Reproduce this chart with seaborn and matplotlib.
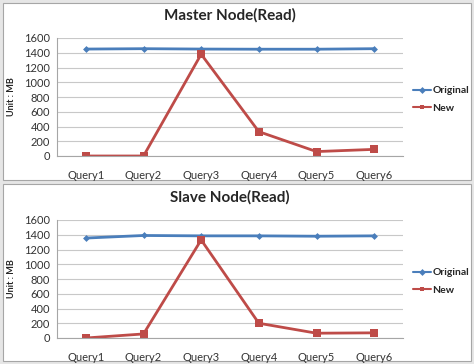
import seaborn as sns
import pandas as pd
import matplotlib.pyplot as plt
from matplotlib.patches import Rectangle

# data
queries = ['Query1', 'Query2', 'Query3', 'Query4', 'Query5', 'Query6']
master_original = [1450, 1455, 1450, 1448, 1448, 1455]
master_new = [0, 0, 1380, 330, 60, 90]
slave_original = [1355, 1390, 1385, 1385, 1380, 1385]
slave_new = [0, 55, 1330, 200, 65, 70]
titles = ['Master Node(Read)', 'Slave Node(Read)']
yticks = [0, 200, 400, 600, 800, 1000, 1200, 1400, 1600]

sns.set_style('white')
plt.rcParams['font.family'] = ['Lato', 'DejaVu Sans']

blue = '#4a7ebb'
red = '#be4b48'

W, H = 474, 364
fig = plt.figure(figsize=(W / 100, H / 100), dpi=100)
fig.patch.set_facecolor('#e6e6e6')

def px(x0, y0, x1, y1):
    # pixel box (top-left origin) -> figure fraction rect
    return [x0 / W, 1 - y1 / H, (x1 - x0) / W, (y1 - y0) / H]

panels = [(3, 3, 471, 180), (3, 184, 471, 361)]
for (x0, y0, x1, y1) in panels:
    l, b, w, h = px(x0, y0, x1, y1)
    fig.patches.append(Rectangle((l, b), w, h, transform=fig.transFigure,
                                 facecolor='white', edgecolor='#a6a6a6', lw=0.8, zorder=-5))

series = [(master_original, master_new), (slave_original, slave_new)]
offsets = [0, 182]
for i in range(2):
    oy = offsets[i]
    ax = fig.add_axes(px(57, 38 + oy, 403, 156 + oy))
    ax.patch.set_alpha(0)
    df = pd.DataFrame({'query': queries * 2,
                       'value': series[i][0] + series[i][1],
                       'kind': ['Original'] * 6 + ['New'] * 6})
    sns.lineplot(data=df, x='query', y='value', hue='kind', style='kind',
                 markers={'Original': 'D', 'New': 's'}, dashes=False,
                 palette={'Original': blue, 'New': red}, lw=2,
                 markersize=6, markeredgewidth=0, ax=ax, sort=False)
    ax.get_lines()[0].set_markersize(3.5)
    ax.set_xlim(-0.5, 5.5)
    ax.set_ylim(0, 1600)
    ax.set_yticks(yticks)
    ax.yaxis.grid(True, color='#c8c8c8', lw=0.8)
    ax.set_axisbelow(True)
    for s in ['top', 'right']:
        ax.spines[s].set_visible(False)
    for s in ['left', 'bottom']:
        ax.spines[s].set_color('#a6a6a6')
        ax.spines[s].set_linewidth(0.8)
    ax.tick_params(axis='y', labelsize=8, length=0, pad=5, colors='#333333')
    ax.tick_params(axis='x', labelsize=8, length=0, pad=10, colors='#333333')
    ax.set_xlabel('')
    ax.set_ylabel('Unit : MB', fontsize=6.5, fontweight='bold', labelpad=6)
    ax.set_title(titles[i], fontsize=11, fontweight='bold', pad=13)
    h_, l_ = ax.get_legend_handles_labels()
    for hd in h_:
        hd.set_linewidth(1.5)
        hd.set_markersize(3.5)
    ax.legend(h_, l_, loc='center left', bbox_to_anchor=(1.0, 0.48), frameon=False,
              prop={'weight': 'bold', 'size': 7.5}, handlelength=1.7,
              handletextpad=0.1, labelspacing=0.8, borderaxespad=0.6)

fig.savefig('out.png', dpi=100, facecolor=fig.get_facecolor())
